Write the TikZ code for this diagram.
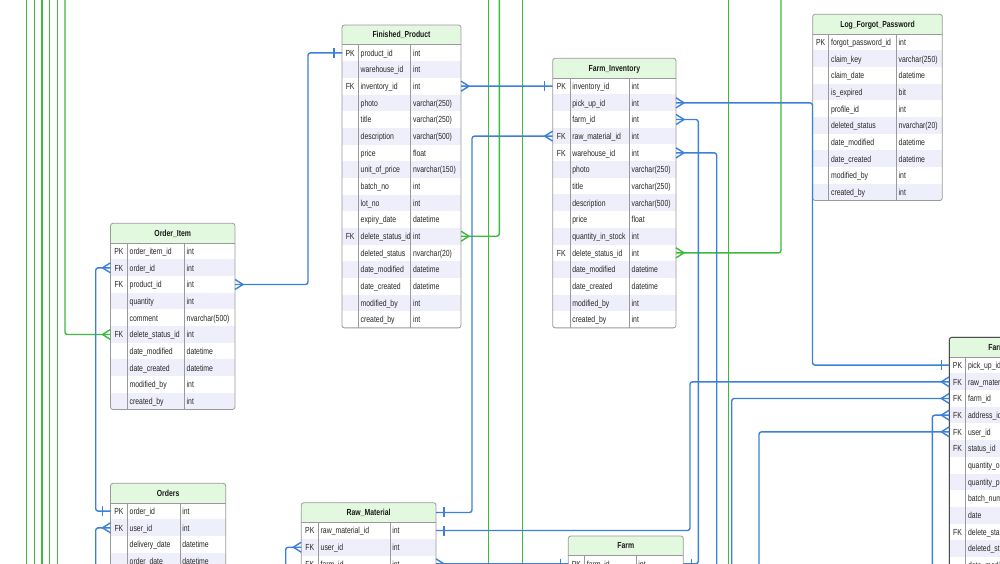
\documentclass[tikz,border=0pt]{standalone}
\usepackage{fontspec}
\setmainfont{Liberation Sans}[FakeStretch=0.78]
\usetikzlibrary{calc}
\definecolor{hdr}{HTML}{E3F9DF}
\definecolor{rowshade}{HTML}{EFEFFB}
\definecolor{bord}{HTML}{9A9A9A}
\definecolor{lblue}{HTML}{3D80DA}
\definecolor{lgreen}{HTML}{3DBA3D}
\tikzset{
  cell/.style={anchor=base west, inner sep=0pt, font=\fontsize{8.8}{10}\selectfont, text=black!85},
  keycell/.style={anchor=base, inner sep=0pt, font=\fontsize{8.8}{10}\selectfont, text=black!85},
  ttl/.style={anchor=base, inner sep=0pt, font=\fontsize{8.8}{10}\selectfont\bfseries, text=black!90},
  tbl/.style={draw=bord, line width=0.8pt, rounded corners=2.5pt},
  colsep/.style={draw=bord, line width=0.6pt},
  bl/.style={draw=lblue, line width=1.4pt, rounded corners=2.5pt},
  gr/.style={draw=lgreen, line width=1.4pt, rounded corners=2.5pt},
}
% #1 id, #2 left, #3 top, #4 key sep, #5 name sep, #6 right, #7 title, #8 rows
\newcommand\ertable[8]{%
  \pgfmathsetmacro\erhb{#3+19.5}%
  \foreach [count=\ri] \rk/\rn/\rt in {#8} {\xdef\ernrows{\ri}}%
  \pgfmathsetmacro\erbot{\erhb+\ernrows*16.67}%
  \begin{scope}
    \clip[rounded corners=2.5pt] (#2,#3) rectangle (#6,\erbot);
    \fill[white] (#2,#3) rectangle (#6,\erbot);
    \fill[hdr] (#2,#3) rectangle (#6,\erhb);
    \foreach [count=\ri] \rk/\rn/\rt in {#8} {
      \ifodd\ri\else
        \fill[rowshade] (#2,{\erhb+(\ri-1)*16.67}) rectangle (#6,{\erhb+\ri*16.67});
      \fi
    }
  \end{scope}
  \draw[colsep] (#2,\erhb) -- (#6,\erhb);
  \draw[colsep] (#4,\erhb) -- (#4,\erbot);
  \draw[colsep] (#5,\erhb) -- (#5,\erbot);
  \draw[tbl] (#2,#3) rectangle (#6,\erbot);
  \node[ttl] (#1) at ({(#2+#6)/2},{#3+9.75+3.2}) {#7};
  \coordinate (#1-h-w) at (#2,{#3+9.75});
  \coordinate (#1-h-e) at (#6,{#3+9.75});
  \foreach [count=\ri] \rk/\rn/\rt in {#8} {
    \pgfmathsetmacro\eryc{\erhb+(\ri-0.5)*16.67}
    \coordinate (#1-\ri-w) at (#2,\eryc);
    \coordinate (#1-\ri-e) at (#6,\eryc);
    \node[keycell] (#1-\ri-k) at ({(#2+#4)/2},{\eryc+3.2}) {\rk};
    \node[cell] (#1-\ri-n) at ({#4+2.2},{\eryc+3.2}) {\rn};
    \node[cell] (#1-\ri-t) at ({#5+2.2},{\eryc+3.2}) {\rt};
  }%
}
\newcommand\crowE[2]{\draw[#2,rounded corners=0pt] ($(#1)+(8,0)$) -- ($(#1)+(0,-5)$) ($(#1)+(8,0)$) -- ($(#1)+(0,5)$);}
\newcommand\crowW[2]{\draw[#2,rounded corners=0pt] ($(#1)+(-8,0)$) -- ($(#1)+(0,-5)$) ($(#1)+(-8,0)$) -- ($(#1)+(0,5)$);}
\newcommand\barE[2]{\draw[#2,rounded corners=0pt] ($(#1)+(8,-5)$) -- ($(#1)+(8,5)$);}
\newcommand\barW[2]{\draw[#2,rounded corners=0pt] ($(#1)+(-8,-5)$) -- ($(#1)+(-8,5)$);}
\begin{document}
\begin{tikzpicture}[x=1pt,y=-1pt]
\useasboundingbox (0,0) rectangle (1000,563);
\clip (0,0) rectangle (1000,563);
\fill[white] (0,0) rectangle (1000,563);

\ertable{FP}{342}{25}{358.3}{410.7}{461}{Finished\_Product}{PK/product\_id/int, /warehouse\_id/int, FK/inventory\_id/int, /photo/varchar(250), /title/varchar(250), /description/varchar(500), /price/float, /unit\_of\_price/nvarchar(150), /batch\_no/int, /lot\_no/int, /expiry\_date/datetime, FK/delete\_status\_id/int, /deleted\_status/nvarchar(20), /date\_modified/datetime, /date\_created/datetime, /modified\_by/int, /created\_by/int}

\ertable{FI}{552.7}{58.3}{570}{629.3}{676}{Farm\_Inventory}{PK/inventory\_id/int, /pick\_up\_id/int, /farm\_id/int, FK/raw\_material\_id/int, FK/warehouse\_id/int, /photo/varchar(250), /title/varchar(250), /description/varchar(500), /price/float, /quantity\_in\_stock/int, FK/delete\_status\_id/int, /date\_modified/datetime, /date\_created/datetime, /modified\_by/int, /created\_by/int}

\ertable{OI}{110.5}{223.3}{127.3}{184.3}{235}{Order\_Item}{PK/order\_item\_id/int, FK/order\_id/int, FK/product\_id/int, /quantity/int, /comment/nvarchar(500), FK/delete\_status\_id/int, /date\_modified/datetime, /date\_created/datetime, /modified\_by/int, /created\_by/int}

\ertable{OR}{110.5}{483.3}{127.3}{180}{225.7}{Orders}{PK/order\_id/int, FK/user\_id/int, /delivery\_date/datetime, /order\_date/datetime}

\ertable{RM}{301.3}{502.7}{318.3}{390}{436}{Raw\_Material}{PK/raw\_material\_id/int, FK/user\_id/int, FK/farm\_id/int}

\ertable{FA}{568.3}{536}{584.5}{636}{683.3}{Farm}{PK/farm\_id/int}

\ertable{LF}{812.7}{14.3}{828.7}{896.3}{942.3}{Log\_Forgot\_Password}{PK/forgot\_password\_id/int, /claim\_key/varchar(250), /claim\_date/datetime, /is\_expired/bit, /profile\_id/int, /deleted\_status/nvarchar(20), /date\_modified/datetime, /date\_created/datetime, /modified\_by/int, /created\_by/int}

\ertable{PU}{949.3}{337.3}{965.7}{1030}{1075}{Farm\_Pick\_Up}{PK/pick\_up\_id/, FK/raw\_material\_id/, FK/farm\_id/, FK/address\_id/, FK/user\_id/, FK/status\_id/, /quantity\_ordered/, /quantity\_picked/, /batch\_number/, /date/, FK/delete\_status\_id/, /deleted\_status/, /date\_modified/}
\draw[draw=black!70, line width=0.9pt, rounded corners=2.5pt] (949.3,337.3) rectangle (1075,600);

% green lines
\foreach \gx [count=\gi] in {26.7,34.3,42,49.7,57.3,488.3,522.3,728.3} {
  \coordinate (gt\gi) at (\gx,-20);
  \coordinate (gb\gi) at (\gx,620);
  \draw[gr] (gt\gi) -- (gb\gi);
}
\coordinate (g6) at (65,-20);
\draw[gr] (g6) |- (OI-6-w);
\coordinate (g7) at (499.3,-20);
\draw[gr] (g7) |- (FP-12-e);
\coordinate (g11) at (781,-20);
\draw[gr] (g11) |- (FI-11-e);
\crowW{OI-6-w}{gr}
\crowE{FP-12-e}{gr}
\crowE{FI-11-e}{gr}

% blue lines
\coordinate (j1) at (308,150);
\draw[bl] (OI-3-e) -| (j1) |- (FP-1-w);
\coordinate (j2) at (95.7,400);
\draw[bl] (OI-2-w) -| (j2) |- (OR-1-w);
\coordinate (e3) at (95.7,620);
\draw[bl] (OR-2-w) -| (e3);
\coordinate (e4) at (285.7,620);
\draw[bl] (RM-2-w) -| (e4);
\draw[bl] (FP-3-e) -- (FI-1-w);
\coordinate (j6) at (472,300);
\draw[bl] (FI-4-w) -| (j6) |- (RM-h-e);
\coordinate (j7) at (690,450);
\draw[bl] (RM-1-e) -| (j7) |- (PU-2-w);
\coordinate (j8) at (812.5,200);
\draw[bl] (FI-2-e) -| (j8) |- (PU-1-w);
\coordinate (j9) at (698.3,400);
\draw[bl] (FI-3-e) -| (j9) |- (FA-1-e);
\coordinate (e10) at (716.7,620);
\draw[bl] (FI-5-e) -| (e10);
\coordinate (e11) at (731.7,620);
\draw[bl] (PU-3-w) -| (e11);
\coordinate (e12) at (932.3,620);
\draw[bl] (PU-4-w) -| (e12);
\coordinate (e13) at (759,620);
\draw[bl] (PU-5-w) -| (e13);
\draw[bl] (RM-3-e) -- (FA-1-w);

\crowE{OI-3-e}{bl} \barW{FP-1-w}{bl}
\crowW{OI-2-w}{bl} \barW{OR-1-w}{bl}
\crowW{OR-2-w}{bl}
\crowW{RM-2-w}{bl}
\crowE{FP-3-e}{bl} \barW{FI-1-w}{bl}
\crowW{FI-4-w}{bl} \barE{RM-h-e}{bl}
\barE{RM-1-e}{bl} \crowW{PU-2-w}{bl}
\crowE{FI-2-e}{bl} \barW{PU-1-w}{bl}
\crowE{FI-3-e}{bl} \barE{FA-1-e}{bl}
\crowE{FI-5-e}{bl}
\crowW{PU-3-w}{bl} \crowW{PU-4-w}{bl} \crowW{PU-5-w}{bl}
\crowE{RM-3-e}{bl} \barW{FA-1-w}{bl}
\end{tikzpicture}
\end{document}
